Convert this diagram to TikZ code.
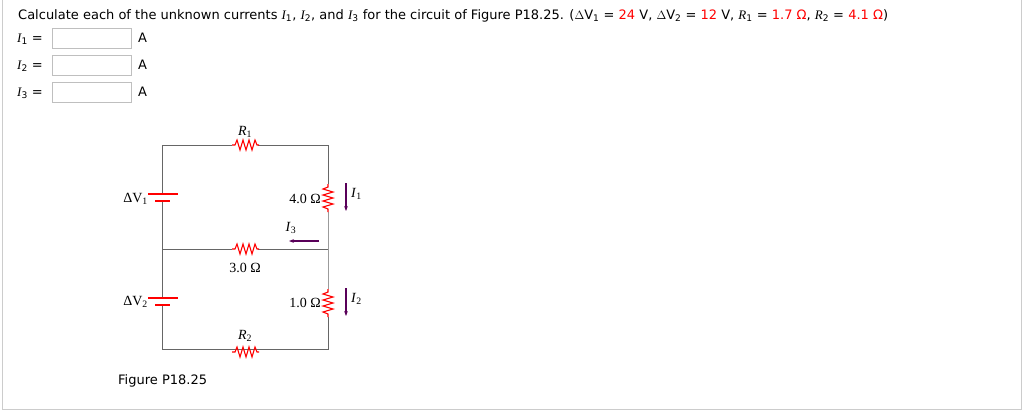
\documentclass[tikz,border=0pt]{standalone}
\usepackage{fontspec}
\setmainfont{DejaVu Sans}
\newfontfamily\serifm{Liberation Serif}
\newcommand{\vi}[1]{{\serifm\itshape #1}}
\usetikzlibrary{arrows.meta}
\begin{document}
\begin{tikzpicture}[x=1pt,y=-1pt,
  txt/.style={inner sep=0,anchor=base west,font=\fontsize{13}{15}\selectfont},
  sf/.style={inner sep=0,font=\serifm\fontsize{14}{16}\selectfont},
  wire/.style={draw=gray!80!black,line width=0.9pt},
  res/.style={draw=red,line width=1.1pt},
  cur/.style={draw=violet!70!black,line width=1.2pt,-{Stealth[length=5pt]}},
  ansbox/.style={draw=gray!50,minimum width=79pt,minimum height=20pt,inner sep=0}]
\useasboundingbox (0,0) rectangle (1024,413);
\draw[gray!40] (2,0) -- (2,409) -- (1021,409) -- (1021,0);
\node[txt] (title) at (18,19) {Calculate each of the unknown currents \vi{I}\textsubscript{1}, \vi{I}\textsubscript{2}, and \vi{I}\textsubscript{3} for the circuit of Figure P18.25. ($\Delta$V\textsubscript{1} = \textcolor{red}{24} V, $\Delta$V\textsubscript{2} = \textcolor{red}{12} V, \vi{R}\textsubscript{1} = \textcolor{red}{1.7 Ω}, \vi{R}\textsubscript{2} = \textcolor{red}{4.1 Ω})};
\foreach \i/\y in {1/38,2/65,3/92}{
  \node[txt] (l\i) at (17,\y+4) {\vi{I}\textsubscript{\i} =};
  \node[ansbox] (b\i) at (91.5,\y) {};
  \node[txt] (a\i) at (138,\y+4) {A};
}
% circuit
\coordinate (tl) at (162,145); \coordinate (tr) at (328,145);
\coordinate (ml) at (162,249); \coordinate (mr) at (328,249);
\coordinate (bl) at (162,349); \coordinate (br) at (328,349);
\draw[wire] (tl) -- (tr) -- (mr) -- (br) -- (bl) -- (tl);
\draw[wire] (ml) -- (mr);
% horizontal resistors
\foreach \n/\y in {r1/145,r3/249,r2/352}{
  \fill[white] (232,\y-1.5) rectangle (258,\y+1.5);
  \draw[res] (232,\y) -- (235,\y) -- (237,\y-5) -- (240,\y+5) -- (243,\y-5) -- (246,\y+5) -- (249,\y-5) -- (252,\y+5) -- (255,\y-5) -- (257,\y) -- (259,\y);
}
% vertical resistors
\foreach \y in {184,289}{
  \fill[white] (326,\y) rectangle (330,\y+28);
  \draw[res] (328,\y) -- (328,\y+3) -- (323,\y+5) -- (333,\y+8) -- (323,\y+11) -- (333,\y+14) -- (323,\y+17) -- (333,\y+20) -- (323,\y+23) -- (328,\y+25) -- (328,\y+28);
}
% batteries
\foreach \y in {194,298}{
  \fill[white] (160,\y+1) rectangle (164,\y+6);
  \draw[red,line width=1.3pt] (148,\y) -- (178,\y);
  \draw[red,line width=2.2pt] (155,\y+7) -- (170,\y+7);
}
\node[sf,anchor=base] (R1) at (245,135) {\textit{R}\textsubscript{1}};
\node[sf,anchor=base] (R2) at (245,339) {\textit{R}\textsubscript{2}};
\node[sf,anchor=base] (r3) at (245,272) {3.0 Ω};
\node[sf,anchor=base east] (r4) at (321,203) {4.0 Ω};
\node[sf,anchor=base east] (r5) at (321,307) {1.0 Ω};
\node[sf,anchor=base east] (v1) at (148,202) {ΔV\textsubscript{1}};
\node[sf,anchor=base east] (v2) at (148,305) {ΔV\textsubscript{2}};
\coordinate (i1a) at (346,183); \coordinate (i1b) at (346,211);
\coordinate (i2a) at (346,288); \coordinate (i2b) at (346,316);
\coordinate (i3a) at (319,241); \coordinate (i3b) at (289,241);
\draw[cur] (i1a) -- (i1b); \draw[cur] (i2a) -- (i2b); \draw[cur] (i3a) -- (i3b);
\node[sf,anchor=west] (I1) at (351,194) {\textit{I}\textsubscript{1}};
\node[sf,anchor=west] (I2) at (351,299) {\textit{I}\textsubscript{2}};
\node[sf] (I3) at (291,228) {\textit{I}\textsubscript{3}};
\node[txt] (fig) at (118,384) {Figure P18.25};
\end{tikzpicture}
\end{document}
